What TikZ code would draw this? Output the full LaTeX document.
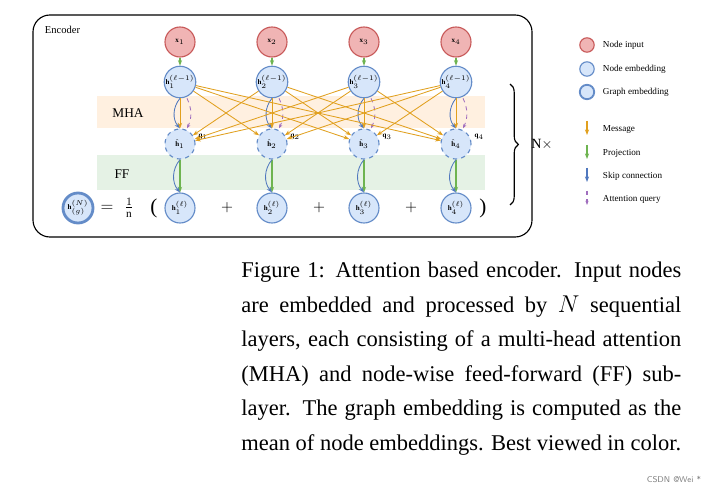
\documentclass[tikz,border=0pt]{standalone}
\usepackage{amsmath}
\usepackage{fontspec}
\setmainfont{Liberation Serif}
\usetikzlibrary{arrows.meta,decorations.pathreplacing}
\definecolor{inred}{RGB}{240,180,180}
\definecolor{inredd}{RGB}{200,90,90}
\definecolor{emb}{RGB}{215,230,250}
\definecolor{embd}{RGB}{100,140,200}
\definecolor{msg}{RGB}{225,160,30}
\definecolor{proj}{RGB}{110,180,80}
\definecolor{skip}{RGB}{80,120,190}
\definecolor{qry}{RGB}{160,110,190}
\tikzset{
  inp/.style={circle,draw=inredd,fill=inred,line width=0.8pt,minimum size=0.75cm,inner sep=0pt,font=\tiny},
  nemb/.style={circle,draw=embd,fill=emb,line width=0.8pt,minimum size=0.75cm,inner sep=0pt,font=\tiny},
  hemb/.style={nemb,dashed},
  gemb/.style={nemb,line width=2pt},
  msgarr/.style={-{Stealth[length=4pt]},msg,line width=0.6pt},
  projarr/.style={-{Stealth[length=4pt]},proj,line width=0.8pt},
  skiparr/.style={-{Stealth[length=4pt]},skip,line width=0.6pt},
  qarr/.style={-{Stealth[length=3pt]},qry,dashed,line width=0.6pt},
  leg/.style={anchor=west,font=\fontsize{6.5}{7}\selectfont}
}
\begin{document}
\begin{tikzpicture}[x=0.025cm,y=-0.025cm]
\useasboundingbox (0,0) rectangle (710,492);
\fill[white] (0,0) rectangle (710,492);
% encoder box and bands
\draw[line width=0.8pt,rounded corners=12pt] (33,15) rectangle (532,237);
\node[anchor=west,font=\fontsize{7.5}{8}\selectfont] (enc) at (40,30) {Encoder};
\fill[orange!12] (97,96) rectangle (485,128);
\fill[green!50!black!10] (97,155) rectangle (485,190);
\node[font=\fontsize{9.5}{10}\selectfont] (mha) at (128,113) {MHA};
\node[font=\fontsize{9.5}{10}\selectfont] (ff) at (122,174) {FF};
% nodes
\foreach \i/\x in {1/180,2/272,3/364,4/456}{
  \node[inp] (x\i) at (\x,42) {$\mathbf{x}_{\i}$};
  \node[nemb] (p\i) at (\x,82) {$\mathbf{h}_{\i}^{(\ell-1)}$};
  \node[hemb] (m\i) at (\x,144) {$\hat{\mathbf{h}}_{\i}$};
  \node[nemb] (o\i) at (\x,208) {$\mathbf{h}_{\i}^{(\ell)}$};
  \draw[projarr] (x\i) -- (p\i);
  \draw[projarr] (m\i) -- (o\i);
  \draw[skiparr] (p\i.south) to[bend right=40] (m\i.north);
  \draw[skiparr] (m\i.south) to[bend right=40] (o\i.north);
  \coordinate (q\i) at ([xshift=5]m\i.north);
  \draw[qarr] ([xshift=5]p\i.south) to[bend left=25] (q\i);
  \node[anchor=west,font=\tiny,inner sep=1pt] (ql\i) at ([xshift=12,yshift=-6]m\i.north) {$\mathbf{q}_{\i}$};
}
\foreach \i in {1,...,4}{\foreach \j in {1,...,4}{
  \draw[msgarr] (p\i) -- (m\j);
}}
% graph embedding
\node[gemb] (g) at (78,208) {$\mathbf{h}_{(g)}^{(N)}$};
\node[font=\fontsize{12}{13}\selectfont] (eq) at (107,208) {$=$};
\node[font=\fontsize{12}{13}\selectfont] (fr) at (129,208) {$\frac{1}{\mathrm{n}}$};
\node[font=\fontsize{15}{16}\selectfont] (lp) at (154,208) {(};
\node[font=\fontsize{15}{16}\selectfont] (rp) at (483,208) {)};
\foreach \x/\k in {227/1,319/2,411/3}{\node[font=\fontsize{11}{12}\selectfont] (pl\k) at (\x,208) {$+$};}
% brace
\draw[decorate,decoration={brace,amplitude=6pt},line width=0.8pt] (510,84) -- (510,205);
\node[font=\fontsize{10}{11}\selectfont] (nx) at (542,144) {N$\times$};
% legend
\node[inp,minimum size=0.36cm] (l1) at (587,45) {};
\node[leg] (t1) at (598,45) {Node input};
\node[nemb,minimum size=0.36cm] (l2) at (587,69) {};
\node[leg] (t2) at (598,69) {Node embedding};
\node[gemb,line width=1.3pt,minimum size=0.36cm] (l3) at (587,92) {};
\node[leg] (t3) at (598,92) {Graph embedding};
\foreach \k/\y/\s/\t in {4/129/msgarr/Message,5/153/projarr/Projection,6/176/skiparr/Skip connection,7/199/qarr/Attention query}{
  \coordinate (a\k) at (587,\y-8);
  \coordinate (b\k) at (587,\y+6);
  \draw[\s,line width=1pt] (a\k) -- (b\k);
  \node[leg] (t\k) at (598,\y) {\t};
}
% caption
\node[anchor=north west,text width=11.0cm,align=justify,inner sep=0pt,
  font=\fontsize{16}{24.5}\selectfont] (cap) at (241,262) {%
Figure 1: Attention based encoder. Input nodes\linebreak
are embedded and processed by $N$ sequential\linebreak
layers, each consisting of a multi-head attention\linebreak
(MHA) and node-wise feed-forward (FF) sub-\linebreak
layer. The graph embedding is computed as the\linebreak
mean of node embeddings. Best viewed in color.};
\node[anchor=east,text=gray,font=\fontsize{6}{7}\sffamily] (wm) at (706,479) {CSDN @Wei *};
\end{tikzpicture}
\end{document}
